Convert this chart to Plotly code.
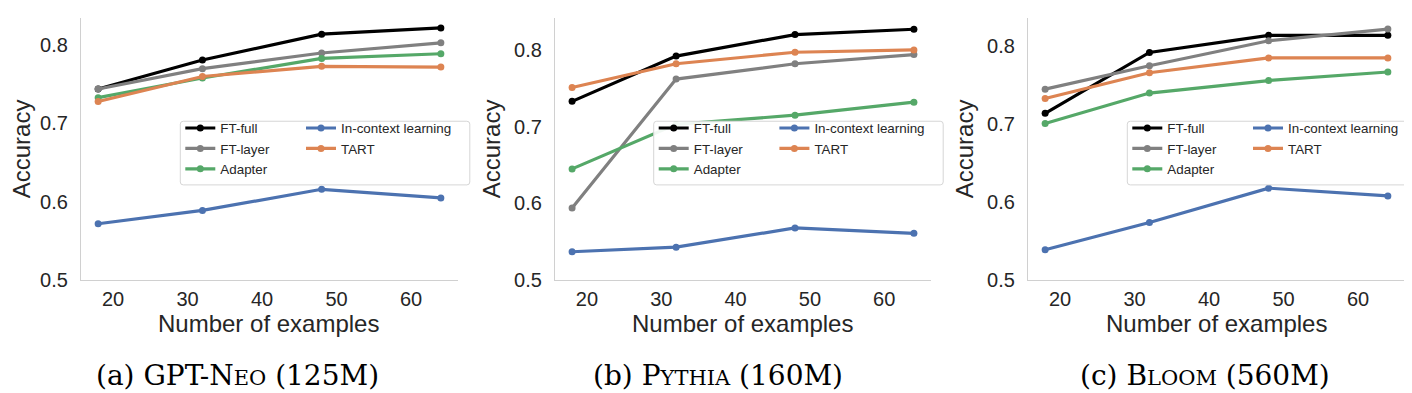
import plotly.graph_objects as go

# ---------------- data ----------------
x_examples = [18, 32, 48, 64]
method_names = ["FT-full", "FT-layer", "Adapter", "In-context learning", "TART"]
method_colors = ["#000000", "#808080", "#55A868", "#4C72B0", "#DD8452"]

gptneo_ft_full = [0.744, 0.781, 0.814, 0.822]
gptneo_ft_layer = [0.744, 0.770, 0.790, 0.803]
gptneo_adapter = [0.733, 0.758, 0.783, 0.789]
gptneo_icl = [0.572, 0.589, 0.616, 0.605]
gptneo_tart = [0.728, 0.760, 0.773, 0.772]

pythia_ft_full = [0.733, 0.792, 0.820, 0.827]
pythia_ft_layer = [0.594, 0.762, 0.782, 0.794]
pythia_adapter = [0.645, 0.703, 0.715, 0.732]
pythia_icl = [0.537, 0.543, 0.568, 0.561]
pythia_tart = [0.751, 0.782, 0.797, 0.800]

bloom_ft_full = [0.714, 0.792, 0.814, 0.814]
bloom_ft_layer = [0.745, 0.775, 0.807, 0.822]
bloom_adapter = [0.701, 0.740, 0.756, 0.767]
bloom_icl = [0.539, 0.574, 0.618, 0.608]
bloom_tart = [0.733, 0.766, 0.785, 0.785]

panel_series = [
    [gptneo_ft_full, gptneo_ft_layer, gptneo_adapter, gptneo_icl, gptneo_tart],
    [pythia_ft_full, pythia_ft_layer, pythia_adapter, pythia_icl, pythia_tart],
    [bloom_ft_full, bloom_ft_layer, bloom_adapter, bloom_icl, bloom_tart],
]
captions = [
    "(a) GPT-N<span style='font-size:21px'>EO</span> (125M)",
    "(b) P<span style='font-size:21px'>YTHIA</span> (160M)",
    "(c) B<span style='font-size:21px'>LOOM</span> (560M)",
]
x_title = "Number of examples"
y_title = "Accuracy"
x_ticks = [20, 30, 40, 50, 60]
y_ticks = [0.5, 0.6, 0.7, 0.8]

# ---------------- layout geometry (pixels) ----------------
W, H = 1412, 393
plot_left = [73, 547, 1020]
plot_right = [450, 923, 1397]
plot_top, plot_bottom = 10, 280
y_tops = [0.835, 0.842, 0.8366]
frame_left = [172.3, 645.7, 1119.3]
frame_w = 289.5
frame_top, frame_bot = 116.5, 182
caption_cx = [229, 710, 1197]
xtitle_cx = [260, 735, 1208]

def px(x):
    return x / W

def py(y):
    return 1 - y / H

fig = go.Figure()
text_color = "#262626"
sans = "Liberation Sans, Arial, sans-serif"

for p in range(3):
    xa = "x" if p == 0 else f"x{p+1}"
    ya = "y" if p == 0 else f"y{p+1}"
    for m in range(5):
        leg_col = 0 if m < 3 else 1
        leg_idx = 2 * p + leg_col + 1
        leg_name = "legend" if leg_idx == 1 else f"legend{leg_idx}"
        fig.add_trace(go.Scatter(
            x=x_examples, y=panel_series[p][m], name=method_names[m],
            mode="lines+markers",
            line=dict(color=method_colors[m], width=3.2),
            marker=dict(color=method_colors[m], size=7),
            xaxis=xa, yaxis=ya, legend=leg_name, showlegend=True,
        ))

    axis_common = dict(
        showgrid=False, zeroline=False, showline=True,
        linecolor="#d0d0d0", linewidth=1.3, ticks="",
        tickfont=dict(family=sans, size=20, color=text_color),
        title_font=dict(family=sans, size=24, color=text_color),
    )
    xkey = "xaxis" if p == 0 else f"xaxis{p+1}"
    ykey = "yaxis" if p == 0 else f"yaxis{p+1}"
    fig.update_layout(**{
        xkey: dict(
            domain=[px(plot_left[p]), px(plot_right[p])],
            range=[15.7, 66.3], tickvals=x_ticks, anchor=ya,
            ticklabelstandoff=1,
            **axis_common,
        ),
        ykey: dict(
            domain=[py(plot_bottom), py(plot_top)],
            range=[0.5, y_tops[p]], tickvals=y_ticks, tickformat=".1f", anchor=xa,
            title=dict(text=y_title, standoff=6),
            ticklabelstandoff=8,
            **axis_common,
        ),
    })

    # x-axis title
    fig.add_annotation(
        text=x_title, x=px(xtitle_cx[p]), y=py(310), xref="paper", yref="paper",
        xanchor="center", yanchor="top", showarrow=False, borderpad=0,
        font=dict(family=sans, size=24, color=text_color),
    )

    # legend frame (drawn above traces, below legend text)
    fl = frame_left[p]
    fr = fl + frame_w
    r = 3
    x0, x1 = px(fl), px(fr)
    y0, y1 = py(frame_bot), py(frame_top)
    rx, ry = r / W, r / H
    path = (f"M{x0+rx},{y1} L{x1-rx},{y1} Q{x1},{y1} {x1},{y1-ry} "
            f"L{x1},{y0+ry} Q{x1},{y0} {x1-rx},{y0} L{x0+rx},{y0} "
            f"Q{x0},{y0} {x0},{y0+ry} L{x0},{y1-ry} Q{x0},{y1} {x0+rx},{y1} Z")
    fig.add_shape(type="path", path=path, xref="paper", yref="paper",
                  fillcolor="rgba(255,255,255,0.92)",
                  line=dict(color="#d6d6d6", width=1), layer="above")

    # two legend columns
    for c, xoff in enumerate([0, 120.7]):
        leg_idx = 2 * p + c + 1
        leg_name = "legend" if leg_idx == 1 else f"legend{leg_idx}"
        fig.update_layout(**{leg_name: dict(
            x=px(fl + xoff), y=py(107.8), xanchor="left", yanchor="top",
            xref="paper", yref="paper",
            bgcolor="rgba(0,0,0,0)", borderwidth=0,
            font=dict(family=sans, size=13.4, color=text_color),
            tracegroupgap=0, itemclick=False, itemdoubleclick=False,
        )})

    fig.add_annotation(
        text=captions[p], x=px(caption_cx[p]), y=py(378), xref="paper", yref="paper",
        xanchor="center", yanchor="middle", showarrow=False,
        font=dict(family="DejaVu Serif, Liberation Serif, serif", size=28, color="#000000"),
    )

fig.update_layout(
    width=W, height=H,
    margin=dict(l=0, r=0, t=0, b=0),
    paper_bgcolor="white", plot_bgcolor="white",
)

fig.write_html("out.html")
